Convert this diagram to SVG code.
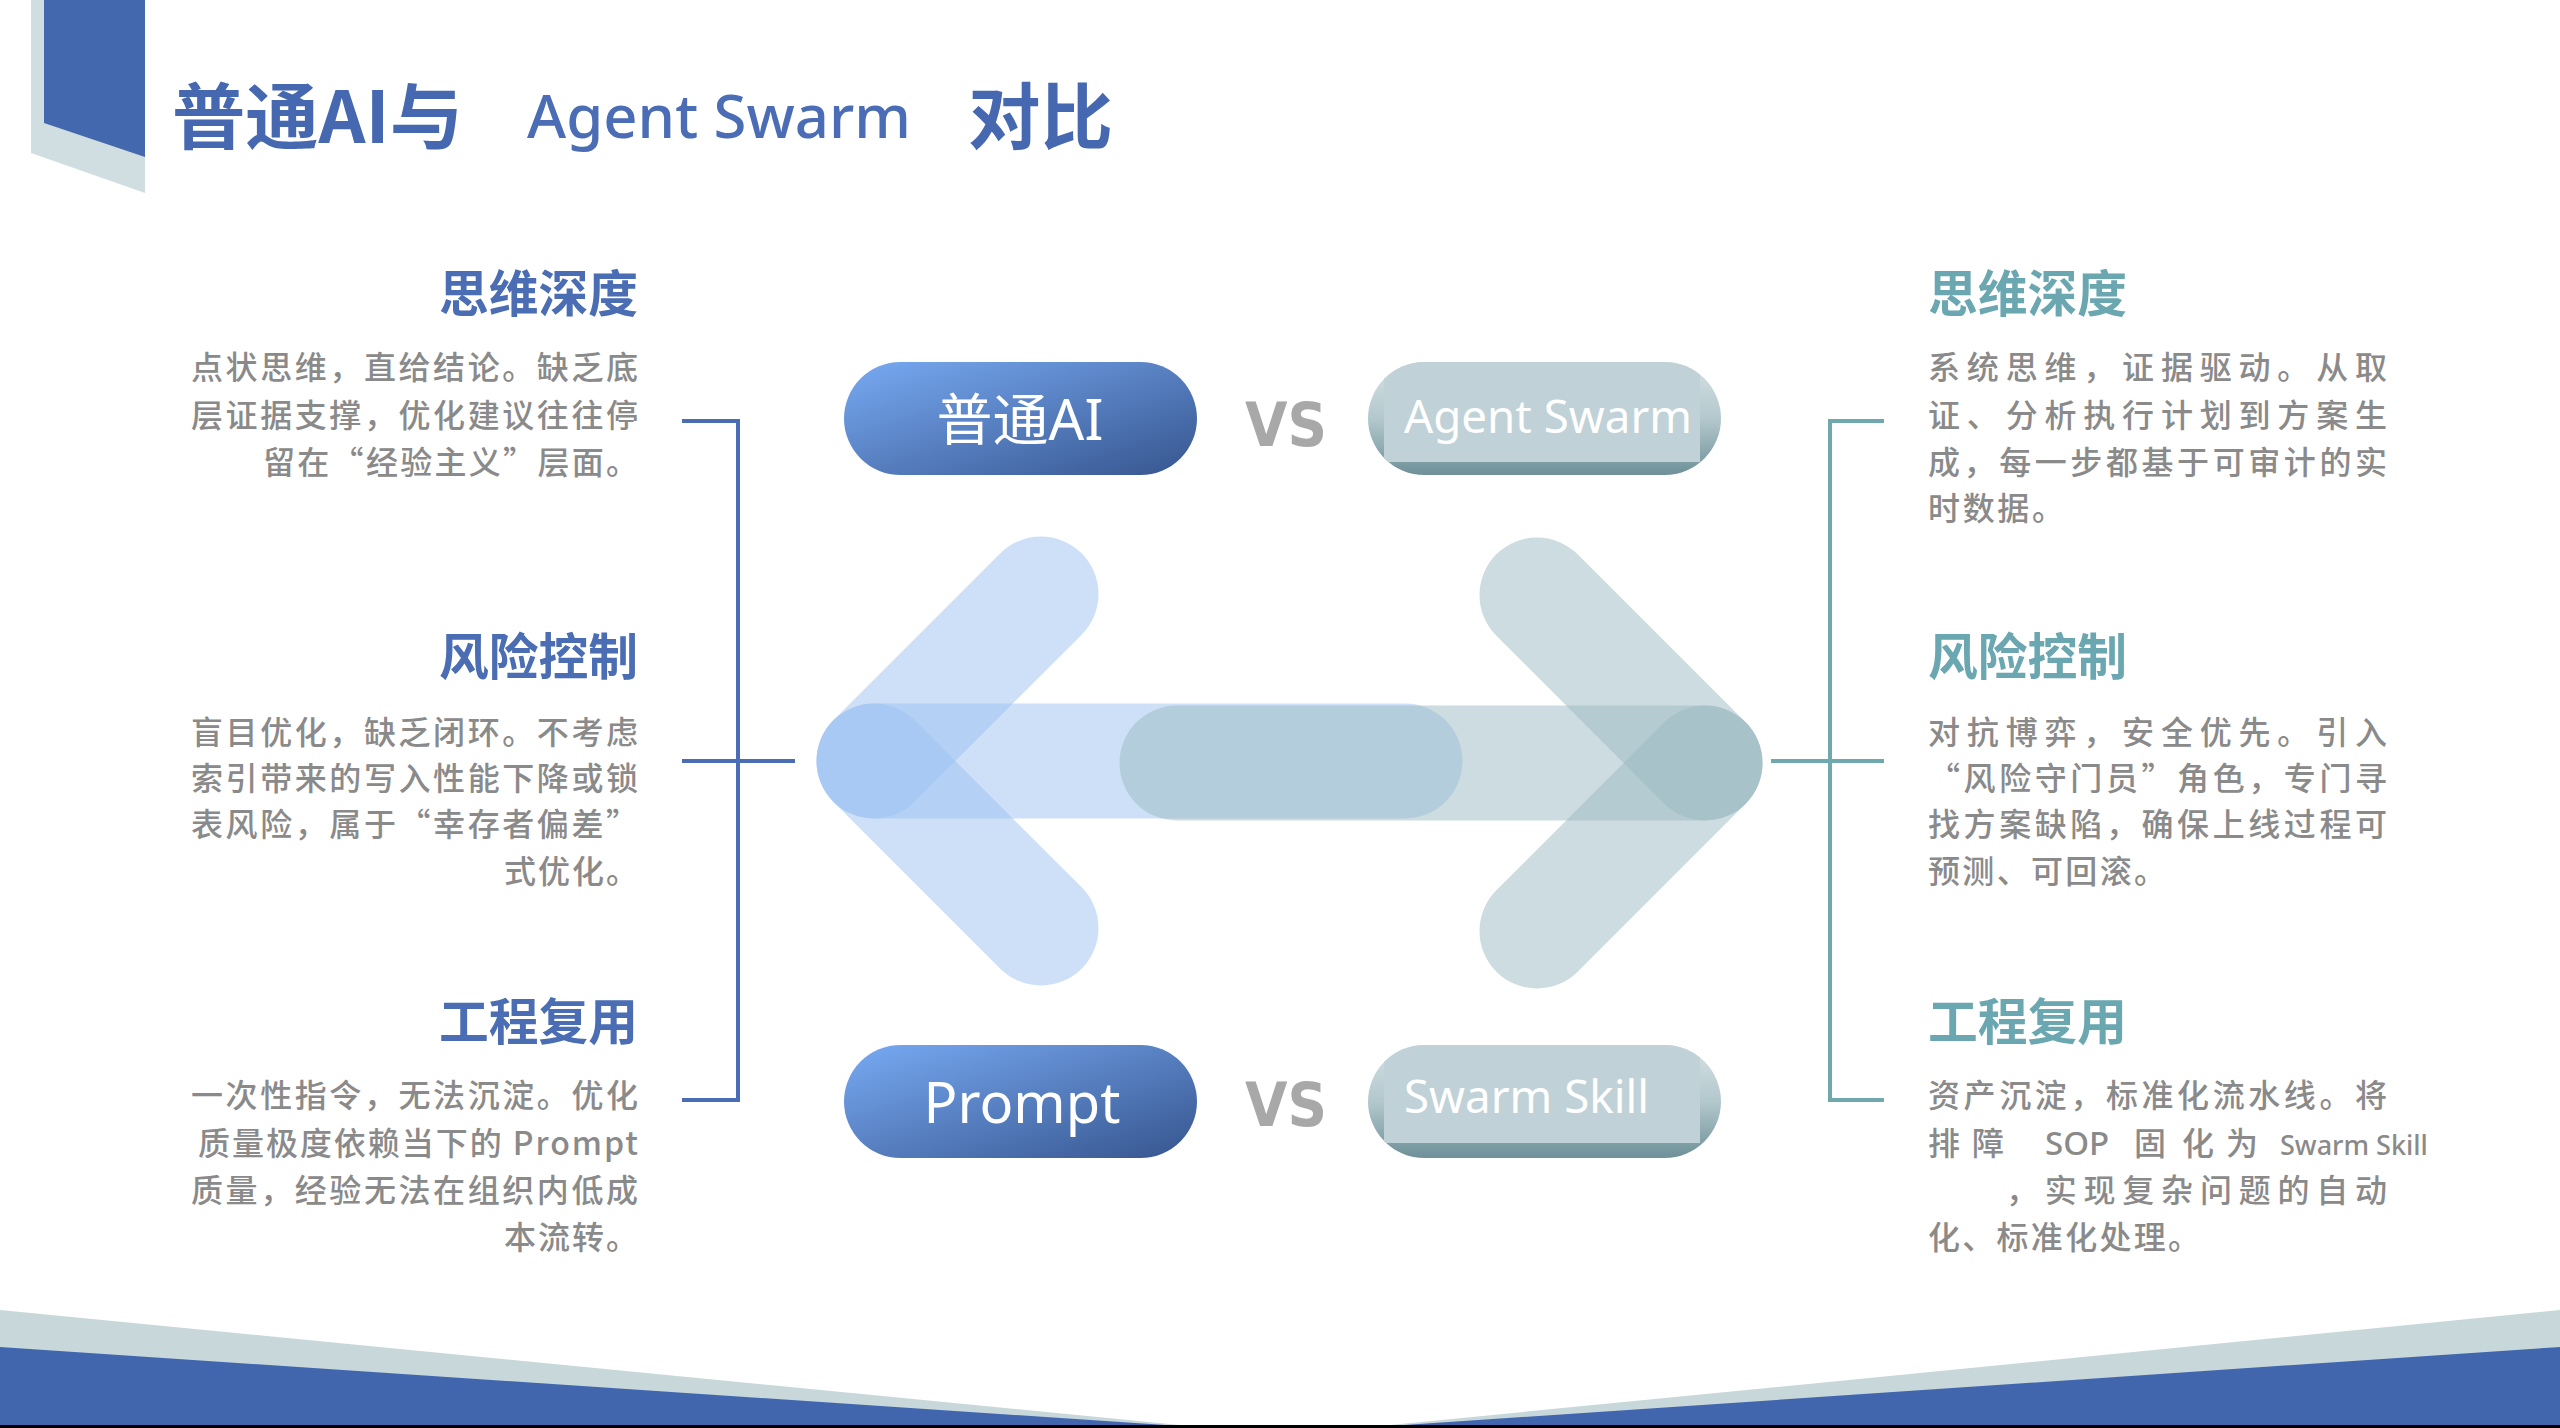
<svg xmlns="http://www.w3.org/2000/svg" width="2560" height="1428" viewBox="0 0 2560 1428">
<defs>
<linearGradient id="gBlue" x1="0" y1="0" x2="1" y2="1">
<stop offset="0" stop-color="#78aaf3"/>
<stop offset="1" stop-color="#36558e"/>
</linearGradient>
<linearGradient id="gTeal" x1="0" y1="0" x2="0" y2="1">
<stop offset="0" stop-color="#d5e1e4"/>
<stop offset="0.5" stop-color="#b3c8cd"/>
<stop offset="1" stop-color="#6e9098"/>
</linearGradient>
<clipPath id="cp1"><rect x="1368" y="362" width="353" height="113" rx="56.5"/></clipPath>
<clipPath id="cp2"><rect x="1368" y="1045" width="353" height="113" rx="56.5"/></clipPath>
<style>
.cjk{font-family:"Noto Sans CJK SC","Noto Sans",sans-serif}
.hl{font-family:"Noto Sans CJK SC",sans-serif;font-size:50px;font-weight:700;fill:#4a6db3}
.hr{font-family:"Noto Sans CJK SC",sans-serif;font-size:50px;font-weight:700;fill:#6ba7b0}
.body{font-family:"Noto Sans CJK SC","Noto Sans",sans-serif;font-size:32px;font-weight:500;fill:#8a8a8a}
.lat{font-family:"Noto Sans","Noto Sans CJK SC",sans-serif}
.pillT{font-family:"Noto Sans","Noto Sans CJK SC",sans-serif;fill:#ffffff}
.vs{font-family:"DejaVu Sans",sans-serif;font-weight:700;font-size:60px;fill:#a8a8a8}
.ab{fill:none;stroke:#9cc2f2;stroke-opacity:0.5;stroke-width:115;stroke-linecap:round}
.ag{fill:none;stroke:#9bb9c1;stroke-opacity:0.5;stroke-width:115;stroke-linecap:round}
.bl{fill:none;stroke:#4a6db6;stroke-width:4}
.br{fill:none;stroke:#6fa9ae;stroke-width:4}
</style>
</defs>
<rect width="2560" height="1428" fill="#ffffff"/>

<g id="decor-top">
<polygon points="31,0 145,0 145,193 31,153" fill="#d0dee1"/>
<polygon points="44,0 145,0 145,157 44,123" fill="#4368ae"/>
</g>
<g id="decor-bottom">
<polygon points="0,1310 1210,1428 0,1428" fill="#c8d7da"/>
<polygon points="0,1347 1210,1428 0,1428" fill="#4166ad"/>
<polygon points="2560,1310 1360,1428 2560,1428" fill="#c8d7da"/>
<polygon points="2560,1347 1360,1428 2560,1428" fill="#4166ad"/>
<rect x="0" y="1425" width="2560" height="3" fill="#000000"/>
</g>

<g id="title">
<text x="172" y="143" class="cjk" font-size="72" font-weight="700" fill="#4568b0" textLength="291" lengthAdjust="spacingAndGlyphs">普通AI与</text>
<text x="527" y="138" class="lat" font-size="60" font-weight="500" fill="#4a6db5" textLength="384" lengthAdjust="spacingAndGlyphs">Agent Swarm</text>
<text x="968" y="143" class="cjk" font-size="72" font-weight="700" fill="#4568b0" textLength="145" lengthAdjust="spacingAndGlyphs">对比</text>
</g>

<g id="arrows">
<path class="ab" d="M1041,594 L874,761"/>
<path class="ab" d="M874,761 L1041,928"/>
<path class="ab" d="M874,761 L1405,761" stroke-width="113"/>
<path class="ag" d="M1177,763 L1705,763" stroke-width="113"/>
<path class="ag" d="M1537,595 L1705,763"/>
<path class="ag" d="M1705,763 L1537,931"/>
</g>

<g id="connectors">
<polyline class="bl" points="682,421 738,421 738,1100 682,1100"/>
<line class="bl" x1="682" y1="761" x2="795" y2="761"/>
<polyline class="br" points="1884,421 1830,421 1830,1100 1884,1100"/>
<line class="br" x1="1771" y1="761" x2="1884" y2="761"/>
</g>

<g id="pill-normal-ai">
<rect x="844" y="362" width="353" height="113" rx="56.5" fill="url(#gBlue)"/>
<text x="1020" y="440" class="pillT" font-size="56" text-anchor="middle" font-family="Noto Sans CJK SC">普通AI</text>
</g>
<g id="vs-1"><text x="1245" y="446" class="vs" textLength="82" lengthAdjust="spacingAndGlyphs">VS</text></g>
<g id="pill-agent-swarm">
<rect x="1368" y="362" width="353" height="113" rx="56.5" fill="url(#gTeal)"/>
<rect x="1384" y="362" width="316" height="100" fill="#c0d2d7" clip-path="url(#cp1)"/>
<text x="1404" y="433" class="pillT" font-size="46" textLength="288" lengthAdjust="spacingAndGlyphs">Agent Swarm</text>
</g>

<g id="pill-prompt">
<rect x="844" y="1045" width="353" height="113" rx="56.5" fill="url(#gBlue)"/>
<text x="1022" y="1123" class="pillT" font-size="56" text-anchor="middle">Prompt</text>
</g>
<g id="vs-2"><text x="1245" y="1126" class="vs" textLength="82" lengthAdjust="spacingAndGlyphs">VS</text></g>
<g id="pill-swarm-skill">
<rect x="1368" y="1045" width="353" height="113" rx="56.5" fill="url(#gTeal)"/>
<rect x="1384" y="1045" width="316" height="98" fill="#c0d2d7" clip-path="url(#cp2)"/>
<text x="1404" y="1113" class="pillT" font-size="46" textLength="245" lengthAdjust="spacingAndGlyphs">Swarm Skill</text>
</g>

<g id="left-thinking">
<text x="439" y="312" class="hl" textLength="199" lengthAdjust="spacingAndGlyphs">思维深度</text>
<text class="body" x="191" y="379" textLength="447" lengthAdjust="spacing">点状思维，直给结论。缺乏底</text>
<text class="body" x="191" y="427" textLength="447" lengthAdjust="spacing">层证据支撑，优化建议往往停</text>
<text class="body" x="263" y="474" textLength="375" lengthAdjust="spacing">留在“经验主义”层面。</text>
</g>
<g id="left-risk">
<text x="439" y="675" class="hl" textLength="199" lengthAdjust="spacingAndGlyphs">风险控制</text>
<text class="body" x="191" y="744" textLength="447" lengthAdjust="spacing">盲目优化，缺乏闭环。不考虑</text>
<text class="body" x="191" y="790" textLength="447" lengthAdjust="spacing">索引带来的写入性能下降或锁</text>
<text class="body" x="191" y="836" textLength="447" lengthAdjust="spacing">表风险，属于“幸存者偏差”</text>
<text class="body" x="504" y="883" textLength="134" lengthAdjust="spacing">式优化。</text>
</g>
<g id="left-reuse">
<text x="439" y="1040" class="hl" textLength="199" lengthAdjust="spacingAndGlyphs">工程复用</text>
<text class="body" x="191" y="1107" textLength="447" lengthAdjust="spacing">一次性指令，无法沉淀。优化</text>
<text class="body" x="198" y="1155" textLength="440" lengthAdjust="spacing">质量极度依赖当下的 Prompt</text>
<text class="body" x="191" y="1202" textLength="447" lengthAdjust="spacing">质量，经验无法在组织内低成</text>
<text class="body" x="504" y="1249" textLength="134" lengthAdjust="spacing">本流转。</text>
</g>

<g id="right-thinking">
<text x="1928" y="312" class="hr" textLength="199" lengthAdjust="spacingAndGlyphs">思维深度</text>
<text class="body" x="1928" y="379" textLength="459" lengthAdjust="spacing">系统思维，证据驱动。从取</text>
<text class="body" x="1928" y="427" textLength="459" lengthAdjust="spacing">证、分析执行计划到方案生</text>
<text class="body" x="1928" y="474" textLength="459" lengthAdjust="spacing">成，每一步都基于可审计的实</text>
<text class="body" x="1928" y="520" textLength="136" lengthAdjust="spacing">时数据。</text>
</g>
<g id="right-risk">
<text x="1928" y="675" class="hr" textLength="199" lengthAdjust="spacingAndGlyphs">风险控制</text>
<text class="body" x="1928" y="744" textLength="459" lengthAdjust="spacing">对抗博弈，安全优先。引入</text>
<text class="body" x="1928" y="790" textLength="459" lengthAdjust="spacing">“风险守门员”角色，专门寻</text>
<text class="body" x="1928" y="836" textLength="459" lengthAdjust="spacing">找方案缺陷，确保上线过程可</text>
<text class="body" x="1928" y="883" textLength="238" lengthAdjust="spacing">预测、可回滚。</text>
</g>
<g id="right-reuse">
<text x="1928" y="1040" class="hr" textLength="199" lengthAdjust="spacingAndGlyphs">工程复用</text>
<text class="body" x="1928" y="1107" textLength="459" lengthAdjust="spacing">资产沉淀，标准化流水线。将</text>
<text class="body" y="1155"><tspan x="1928">排</tspan><tspan x="1972">障</tspan><tspan x="2045" class="lat" font-size="33">SOP</tspan><tspan x="2134">固</tspan><tspan x="2182">化</tspan><tspan x="2226">为</tspan><tspan x="2280" class="lat" font-size="27">Swarm Skill</tspan></text>
<text class="body" x="2006" y="1202" textLength="381" lengthAdjust="spacing">，实现复杂问题的自动</text>
<text class="body" x="1928" y="1249" textLength="272" lengthAdjust="spacing">化、标准化处理。</text>
</g>
</svg>
